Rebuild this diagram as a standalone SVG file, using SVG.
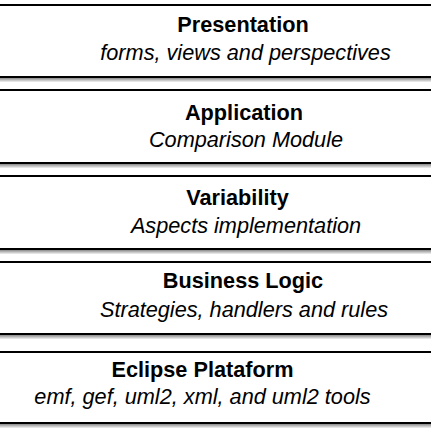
<svg xmlns="http://www.w3.org/2000/svg" width="431" height="431" viewBox="0 0 431 431">
<defs>
<linearGradient id="sh" x1="0" y1="0" x2="0" y2="1">
<stop offset="0" stop-color="#8a8a8a"/>
<stop offset="1" stop-color="#ffffff"/>
</linearGradient>
<style>
.line{stroke:#000;stroke-width:2.2;fill:none}
.shadow{fill:url(#sh)}
.t{font-family:"Liberation Sans",Arial,sans-serif;font-weight:bold;font-size:21.7px;fill:#000;text-anchor:middle}
.s{font-family:"Liberation Sans",Arial,sans-serif;font-style:italic;font-size:21.7px;fill:#000;text-anchor:middle}
</style>
</defs>
<rect width="431" height="431" fill="#fff"/>
<g id="presentation">
<rect class="shadow" x="0" y="78" width="431" height="4.5"/>
<line class="line" x1="0" y1="5" x2="431" y2="5"/>
<line class="line" x1="0" y1="77" x2="431" y2="77"/>
<text class="t" x="243" y="32">Presentation</text>
<text class="s" x="245.5" y="60">forms, views and perspectives</text>
</g>
<g id="application">
<rect class="shadow" x="0" y="164" width="431" height="4.5"/>
<line class="line" x1="0" y1="90" x2="431" y2="90"/>
<line class="line" x1="0" y1="163" x2="431" y2="163"/>
<text class="t" x="244" y="120">Application</text>
<text class="s" x="246" y="146.5">Comparison Module</text>
</g>
<g id="variability">
<rect class="shadow" x="0" y="250" width="431" height="4.5"/>
<line class="line" x1="0" y1="176" x2="431" y2="176"/>
<line class="line" x1="0" y1="249" x2="431" y2="249"/>
<text class="t" x="237.5" y="205">Variability</text>
<text class="s" x="246" y="233">Aspects implementation</text>
</g>
<g id="business-logic">
<rect class="shadow" x="0" y="335" width="431" height="4.5"/>
<line class="line" x1="0" y1="262" x2="431" y2="262"/>
<line class="line" x1="0" y1="334" x2="431" y2="334"/>
<text class="t" x="243" y="288">Business Logic</text>
<text class="s" x="244" y="316.5">Strategies, handlers and rules</text>
</g>
<g id="eclipse-platform">
<rect class="shadow" x="0" y="424" width="431" height="4.5"/>
<line class="line" x1="0" y1="352" x2="431" y2="352"/>
<line class="line" x1="0" y1="423" x2="431" y2="423"/>
<text class="t" x="202.5" y="376.5">Eclipse Plataform</text>
<text class="s" x="202.5" y="404">emf, gef, uml2, xml, and uml2 tools</text>
</g>
<g id="connectors"/>
</svg>
